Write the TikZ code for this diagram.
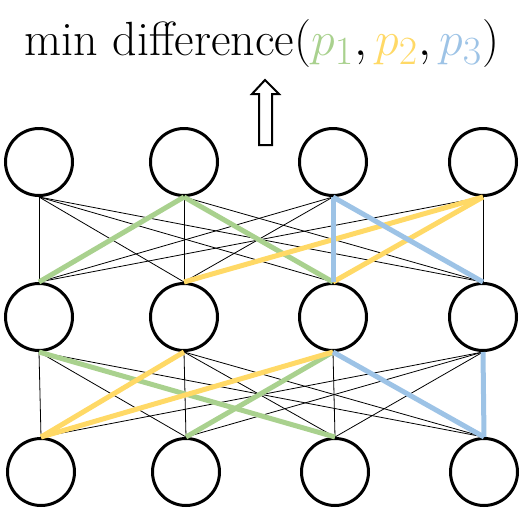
\documentclass[tikz,border=0pt]{standalone}
\usepackage{amsmath, amssymb}
\definecolor{pgreen}{HTML}{A9D18E}
\definecolor{pyellow}{HTML}{FFD966}
\definecolor{pblue}{HTML}{9DC3E6}
\tikzset{
  neuron/.style={draw, circle, line width=3pt, minimum size=67pt, inner sep=0pt},
  thin link/.style={line width=0.8pt},
  path link/.style={line width=5pt}
}
\begin{document}
\begin{tikzpicture}[x=1pt,y=-1pt]
\useasboundingbox (0,0) rectangle (530,509);
% title and arrow
\node[anchor=base] (title) at (262,55) {\scalebox{1.93}{\fontsize{24.88}{30}\selectfont min difference$(\textcolor{pgreen}{p_1},\textcolor{pyellow}{p_2},\textcolor{pblue}{p_3})$}};
\draw[line width=2pt] (259,145) -- (259,94) -- (252,94) -- (265,80) -- (279,94) -- (272,94) -- (272,145) -- cycle;
% neurons
\node[neuron] (t1) at (39,162) {};
\node[neuron] (t2) at (184,162) {};
\node[neuron] (t3) at (333,162) {};
\node[neuron] (t4) at (483,162) {};
\node[neuron] (m1) at (39,317) {};
\node[neuron] (m2) at (184,317) {};
\node[neuron] (m3) at (333,317) {};
\node[neuron] (m4) at (483,317) {};
\node[neuron] (b1) at (41,472) {};
\node[neuron] (b2) at (186,472) {};
\node[neuron] (b3) at (335,472) {};
\node[neuron] (b4) at (484,472) {};
% full connections
\foreach \i in {1,...,4}
  \foreach \j in {1,...,4} {
    \draw[thin link] (t\i.south) -- (m\j.north);
    \draw[thin link] (m\i.south) -- (b\j.north);
  }
% p1
\draw[path link, pgreen] (t2.south) -- (m1.north);
\draw[path link, pgreen] (t2.south) -- (m3.north);
\draw[path link, pgreen] (m1.south) -- (b3.north);
\draw[path link, pgreen] (m3.south) -- (b2.north);
% p2
\draw[path link, pyellow] (t4.south) -- (m2.north);
\draw[path link, pyellow] (t4.south) -- (m3.north);
\draw[path link, pyellow] (m2.south) -- (b1.north);
\draw[path link, pyellow] (m3.south) -- (b1.north);
% p3
\draw[path link, pblue] (t3.south) -- (m3.north);
\draw[path link, pblue] (t3.south) -- (m4.north);
\draw[path link, pblue] (m3.south) -- (b4.north);
\draw[path link, pblue] (m4.south) -- (b4.north);
\end{tikzpicture}
\end{document}
